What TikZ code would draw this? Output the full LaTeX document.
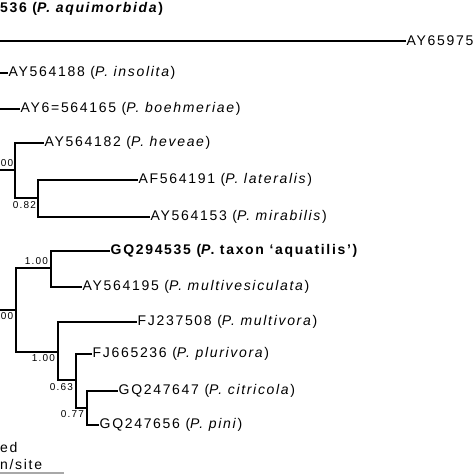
\documentclass[tikz,border=0pt]{standalone}
\usepackage{fontspec}
\setmainfont{Liberation Sans}[LetterSpace=12]
\usepackage{tikz}
\usetikzlibrary{positioning}
\definecolor{barcol}{HTML}{A8A8A8}

\tikzset{
  branch/.style={line width=1.8pt,line cap=rect},
  taxon/.style={anchor=west,inner sep=1.5pt,font=\fontsize{14}{16}\selectfont},
  supp/.style={inner sep=0.8pt,font=\fontsize{10}{12}\selectfont}
}

\begin{document}
\begin{tikzpicture}[x=1pt,y=-1pt]
\useasboundingbox (0,0) rectangle (474,474);
% leaves
\node[taxon,font=\fontsize{14}{16}\selectfont\bfseries] (aquim) at (-1.5,9) {536 (\textit{P. aquimorbida})};
\node[taxon] (ay659) at (405,41) {AY65975};
\node[taxon] (insol) at (7,73) {AY564188 (\textit{P. insolita})};
\node[taxon] (boehm) at (19,109) {AY6=564165 (\textit{P. boehmeriae})};
\node[taxon] (hevea) at (43,143) {AY564182 (\textit{P. heveae})};
\node[taxon] (later) at (137,180) {AF564191 (\textit{P. lateralis})};
\node[taxon] (mirab) at (149,217) {AY564153 (\textit{P. mirabilis})};
\node[taxon,font=\fontsize{14}{16}\selectfont\bfseries] (aquat) at (109,251) {GQ294535 (\textit{P}. taxon ‘aquatilis’)};
\node[taxon] (mvesi) at (81,287) {AY564195 (\textit{P. multivesiculata})};
\node[taxon] (mvora) at (136,322) {FJ237508 (\textit{P. multivora})};
\node[taxon] (pluri) at (91,354) {FJ665236 (\textit{P. plurivora})};
\node[taxon] (citri) at (117,391) {GQ247647 (\textit{P. citricola})};
\node[taxon] (pini) at (98,425) {GQ247656 (\textit{P. pini})};
% inner nodes
\coordinate (r1) at (0,41);
\coordinate (r2) at (0,73);
\coordinate (r3) at (0,109);
\coordinate (a0) at (0,170);
\coordinate (a1) at (15,170);
\coordinate (a2) at (38,198);
\coordinate (b0) at (0,310);
\coordinate (b1) at (16,310);
\coordinate (b2) at (51,268);
\coordinate (b3) at (58,352);
\coordinate (b4) at (76,380);
\coordinate (b5) at (87,408);
% branches
\draw[branch] (r1) -- (ay659.west);
\draw[branch] (r2) -- (insol.west);
\draw[branch] (r3) -- (boehm.west);
\draw[branch] (a0) -- (a1) |- (hevea.west);
\draw[branch] (a1) |- (a2) |- (later.west);
\draw[branch] (a2) |- (mirab.west);
\draw[branch] (b0) -- (b1) |- (b2) |- (aquat.west);
\draw[branch] (b2) |- (mvesi.west);
\draw[branch] (b1) |- (b3) |- (mvora.west);
\draw[branch] (b3) |- (b4) |- (pluri.west);
\draw[branch] (b4) |- (b5) |- (citri.west);
\draw[branch] (b5) |- (pini.west);
% support values
\node[supp,anchor=south west] (sa1) at (0,168) {00};
\node[supp,anchor=north east] (sa2) at (37,201) {0.82};
\node[supp,anchor=north west] (sb1) at (0,312) {00};
\node[supp,anchor=south east] (sb2) at (49,266) {1.00};
\node[supp,anchor=north east] (sb3) at (56,354) {1.00};
\node[supp,anchor=north east] (sb4) at (74,383) {0.63};
\node[supp,anchor=north east] (sb5) at (85,410) {0.77};
% scale bar
\node[taxon,inner sep=0pt] (sc1) at (0,447) {ed};
\node[taxon,inner sep=0pt] (sc2) at (0,464) {n/site};
\draw[barcol,line width=3pt] (0,473) -- (64,473);
\end{tikzpicture}
\end{document}
